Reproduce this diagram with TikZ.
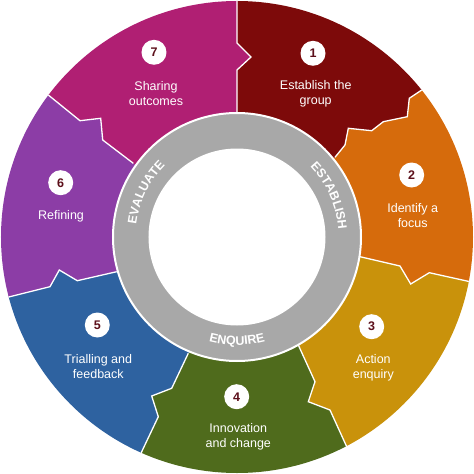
\documentclass[tikz,border=0pt]{standalone}
\usepackage{fontspec}
\setmainfont{Liberation Sans}
\usetikzlibrary{decorations.text}
\definecolor{SegOne}{HTML}{7D0A0A}
\definecolor{SegTwo}{HTML}{D66B0C}
\definecolor{SegThree}{HTML}{C9920B}
\definecolor{SegFour}{HTML}{4F6B1C}
\definecolor{SegFive}{HTML}{2E62A0}
\definecolor{SegSix}{HTML}{8C3DA6}
\definecolor{SegSeven}{HTML}{B01F73}
\definecolor{RingGray}{HTML}{A8A8A8}
\definecolor{NumInk}{HTML}{5C0F1A}
\tikzset{
  cut/.style={draw=white,line width=1.3pt,line join=miter},
  numdot/.style={circle,fill=white,minimum size=25pt,inner sep=0pt,font=\fontsize{12.5}{15}\selectfont\bfseries,text=NumInk},
  steplabel/.style={align=center,text=white,font=\fontsize{12.5}{15}\selectfont},
  ringword/.style={decorate,decoration={text along path,text align=center,text color=white,text={|\fontsize{12.5}{15}\selectfont\bfseries|#1}}}
}
\begin{document}
\begin{tikzpicture}[x=1pt,y=1pt]
  \useasboundingbox (-237,-237) rectangle (237,237);
  % the seven pieces
  \begin{scope}
    \clip (0,0) circle (236);
    \fill[SegOne] (0,0) -- (0,113) -- (0,167) -- (14,180) -- (0,194) -- (0,237) -- (0,300) -- (234.8,186.9) -- (184.7,147) -- (172.3,138.7) -- (170.3,120.3) -- (146.3,115.3) -- (134.7,106.3) -- (111.3,108.7) -- (108,92) -- (98,79.7) -- cycle;
    \fill[SegTwo] (0,0) -- (98,79.7) -- (108,92) -- (111.3,108.7) -- (134.7,106.3) -- (146.3,115.3) -- (170.3,120.3) -- (172.3,138.7) -- (184.7,147) -- (234.8,186.9) -- (296,-56.8) -- (233,-44.7) -- (192.3,-35.7) -- (173.7,-47) -- (163,-29) -- (123,-19.7) -- cycle;
    \fill[SegThree] (0,0) -- (123,-19.7) -- (163,-29) -- (173.7,-47) -- (192.3,-35.7) -- (233,-44.7) -- (296,-56.8) -- (139.3,-266.3) -- (109.7,-209.7) -- (93,-173) -- (71.3,-164.7) -- (78,-144.7) -- (61.3,-108) -- cycle;
    \fill[SegFour] (0,0) -- (61.3,-108) -- (78,-144.7) -- (71.3,-164.7) -- (93,-173) -- (109.7,-209.7) -- (139.3,-266.3) -- (-121,-272.7) -- (-95.3,-214.7) -- (-78.7,-179.7) -- (-85.3,-159) -- (-65.3,-151.3) -- (-48.7,-116.3) -- cycle;
    \fill[SegFive] (0,0) -- (-48.7,-116.3) -- (-65.3,-151.3) -- (-85.3,-159) -- (-78.7,-179.7) -- (-95.3,-214.7) -- (-121,-272.7) -- (-288.3,-75.8) -- (-227,-59.7) -- (-187,-49.7) -- (-177.7,-33) -- (-159.7,-43.7) -- (-120.3,-34.7) -- cycle;
    \fill[SegSix] (0,0) -- (-120.3,-34.7) -- (-159.7,-43.7) -- (-177.7,-33) -- (-187,-49.7) -- (-227,-59.7) -- (-288.3,-75.8) -- (-239.6,180.3) -- (-188.7,142) -- (-157,116.3) -- (-136.3,118.7) -- (-134.3,97) -- (-103.7,73.7) -- cycle;
    \fill[SegSeven] (0,0) -- (-103.7,73.7) -- (-134.3,97) -- (-136.3,118.7) -- (-157,116.3) -- (-188.7,142) -- (-239.6,180.3) -- (0,300) -- (0,237) -- (0,194) -- (14,180) -- (0,167) -- (0,113) -- cycle;
    % white seams
    \draw[cut] (0,113) -- (0,167) -- (14,180) -- (0,194) -- (0,300);
    \draw[cut] (98,79.7) -- (108,92) -- (111.3,108.7) -- (134.7,106.3) -- (146.3,115.3) -- (170.3,120.3) -- (172.3,138.7) -- (184.7,147) -- (234.8,186.9);
    \draw[cut] (123,-19.7) -- (163,-29) -- (173.7,-47) -- (192.3,-35.7) -- (233,-44.7) -- (296,-56.8);
    \draw[cut] (61.3,-108) -- (78,-144.7) -- (71.3,-164.7) -- (93,-173) -- (109.7,-209.7) -- (139.3,-266.3);
    \draw[cut] (-48.7,-116.3) -- (-65.3,-151.3) -- (-85.3,-159) -- (-78.7,-179.7) -- (-95.3,-214.7) -- (-121,-272.7);
    \draw[cut] (-120.3,-34.7) -- (-159.7,-43.7) -- (-177.7,-33) -- (-187,-49.7) -- (-227,-59.7) -- (-288.3,-75.8);
    \draw[cut] (-103.7,73.7) -- (-134.3,97) -- (-136.3,118.7) -- (-157,116.3) -- (-188.7,142) -- (-239.6,180.3);
  \end{scope}
  % inner ring
  \fill[RingGray,draw=white,line width=2pt] (0,0) circle (124);
  \fill[white] (0,0) circle (88.5);
  \path[ringword=ESTABLISH] (62:101.5) arc[start angle=62, end angle=-14, radius=101.5];
  \path[ringword=EVALUATE] (192:101.5) arc[start angle=192, end angle=116, radius=101.5];
  \path[ringword=ENQUIRE] (-130:108) arc[start angle=-130, end angle=-50, radius=108];
  % numbers
  \node[numdot] (n1) at (76,183.7) {1};
  \node[numdot] (n2) at (174.7,62) {2};
  \node[numdot] (n3) at (134.7,-89.7) {3};
  \node[numdot] (n4) at (-0.3,-159.7) {4};
  \node[numdot] (n5) at (-139.7,-88) {5};
  \node[numdot] (n6) at (-176.3,54.3) {6};
  \node[numdot] (n7) at (-83,184.7) {7};
  % step names
  \node[steplabel] (s1) at (78.7,143.5) {Establish the\\group};
  \node[steplabel] (s2) at (175.7,21.2) {Identify a\\focus};
  \node[steplabel] (s3) at (136.3,-131.2) {Action\\enquiry};
  \node[steplabel] (s4) at (1.3,-199.8) {Innovation\\and change};
  \node[steplabel] (s5) at (-138.7,-129.5) {Trialling and\\feedback};
  \node[steplabel] (s6) at (-176,20.3) {Refining};
  \node[steplabel] (s7) at (-81,143.5) {Sharing\\outcomes};
\end{tikzpicture}
\end{document}
